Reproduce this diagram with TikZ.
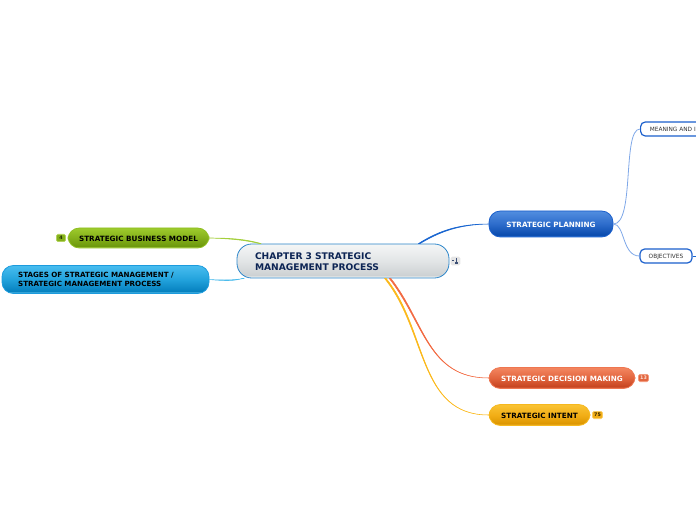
\documentclass[tikz,border=0pt]{standalone}
\usepackage{fontspec}
\setmainfont{DejaVu Sans}
\definecolor{navy}{HTML}{0C2454}
\newcommand{\glossy}[6]{%
 \pgfdeclareverticalshading{#1}{100bp}{color(0bp)=(#5);color(25bp)=(#5);color(26.5bp)=(#5);color(29bp)=(#4);color(50bp)=(#3);color(73bp)=(#2);color(75bp)=(#6);color(100bp)=(#6)}}
\definecolor{grA}{HTML}{9CC92B}\definecolor{grB}{HTML}{84B01A}\definecolor{grC}{HTML}{6C980C}\definecolor{grD}{HTML}{B4D65A}\definecolor{grE}{HTML}{8FBE22}
\definecolor{cyA}{HTML}{45BBEE}\definecolor{cyB}{HTML}{22A2DC}\definecolor{cyC}{HTML}{0681BF}\definecolor{cyD}{HTML}{5CC2EC}\definecolor{cyE}{HTML}{1C9BDD}
\definecolor{blA}{HTML}{4F8BDE}\definecolor{blB}{HTML}{2D6CCB}\definecolor{blC}{HTML}{0A4BAE}\definecolor{blD}{HTML}{2A6FD0}\definecolor{blE}{HTML}{1A5FCC}
\definecolor{reA}{HTML}{F2845E}\definecolor{reB}{HTML}{E2653E}\definecolor{reC}{HTML}{C64420}\definecolor{reD}{HTML}{F59A7C}\definecolor{reE}{HTML}{EE7650}
\definecolor{yeA}{HTML}{F9C232}\definecolor{yeB}{HTML}{F2AE16}\definecolor{yeC}{HTML}{DD9600}\definecolor{yeD}{HTML}{FBCF66}\definecolor{yeE}{HTML}{F6B81E}
\definecolor{ceA}{HTML}{F3F5F5}\definecolor{ceB}{HTML}{E2E5E6}\definecolor{ceC}{HTML}{CDD1D3}\definecolor{ceD}{HTML}{EEF1F2}\definecolor{ceE}{HTML}{2C86CA}
\glossy{shgreen}{grA}{grB}{grC}{grD}{grA}
\glossy{shcyan}{cyA}{cyB}{cyC}{cyD}{cyA}
\glossy{shblue}{blA}{blB}{blC}{blD}{blA}
\glossy{shred}{reA}{reB}{reC}{reD}{reA}
\glossy{shyellow}{yeA}{yeB}{yeC}{yeD}{yeA}
\glossy{shcentre}{ceA}{ceB}{ceC}{ceD}{ceA}
\tikzset{
 x=0.75pt,y=-0.75pt,
 topic/.style={rounded corners=8.5pt,inner sep=0pt,font=\bfseries\fontsize{5.42pt}{6.9pt}\selectfont,line width=0.6pt,text height=5.4pt,text depth=0pt},
 topictwo/.style={topic,text height=,text depth=,align=left},
 subtopic/.style={rounded corners=3.5pt,draw=blE,line width=0.9pt,fill=white,inner sep=0pt,minimum height=10.5pt,font=\fontsize{4.35pt}{5pt}\selectfont,text=black!80,text height=4.2pt,text depth=0pt},
 badge/.style={rounded corners=1.2pt,inner sep=0pt,minimum width=7pt,minimum height=5.6pt,font=\bfseries\fontsize{3.6pt}{4pt}\selectfont,line width=0.4pt},
 link/.style={line width=0.4pt,line join=round},
}
\begin{document}
\begin{tikzpicture}
\useasboundingbox (0,0) rectangle (696,520);
\clip (0,0) rectangle (696,520);
% main nodes
\node[topictwo,draw=ceE,shading=shcentre,minimum width=159pt,minimum height=25.5pt,rounded corners=11pt,text=navy,
  font=\bfseries\fontsize{6.85pt}{8.3pt}\selectfont,text width=132pt] (centre) at (343,261)
  {\rule{0pt}{6.6pt}CHAPTER 3 STRATEGIC\\MANAGEMENT PROCESS};
\node[topic,draw=blE,shading=shblue,minimum width=93pt,minimum height=19.5pt,text=white] (plan) at (551,224) {STRATEGIC PLANNING};
\node[topic,draw=grE,shading=shgreen,minimum width=105.75pt,minimum height=15pt,text=black] (model) at (138.5,238) {STRATEGIC BUSINESS MODEL};
\node[topictwo,draw=cyE,shading=shcyan,minimum width=155.25pt,minimum height=21pt,text=black,text width=131pt,
  font=\bfseries\fontsize{5.35pt}{6.4pt}\selectfont] (stages) at (105.5,279.5)
  {STAGES OF STRATEGIC MANAGEMENT /\\STRATEGIC MANAGEMENT PROCESS};
\node[topic,draw=reE,shading=shred,minimum width=109.5pt,minimum height=15.75pt,text=white] (decision) at (562,378) {STRATEGIC DECISION MAKING};
\node[topic,draw=yeE,shading=shyellow,minimum width=75.75pt,minimum height=15.75pt,text=black] (intent) at (539.5,415) {STRATEGIC INTENT};
% sub nodes
\node[subtopic,anchor=west,minimum width=90pt,align=left,text width=76pt] (meaning) at (640,129) {MEANING AND IMPORTANCE};
\node[subtopic,minimum width=39pt] (objectives) at (666,256) {OBJECTIVES};
\coordinate (objstub) at (700,256);
% badges
\node[badge,fill=grB,draw=grD,text=black!70!grC] (bmodel) at (61,238) {4};
\node[badge,fill=reB,draw=reD,text=white!70!reD,minimum width=7.6pt] (bdecision) at (643.5,378) {13};
\node[badge,fill=yeB,draw=yeD,text=black!80!yeC,minimum width=7.6pt] (bintent) at (597.5,415) {75};
% little icon beside the central topic
\node[rounded corners=1.2pt,fill=black!10,minimum width=7.4pt,minimum height=6.6pt,inner sep=0pt] (icon) at (455.5,261) {};
\fill[navy!80] ([xshift=-2.6pt,yshift=-.2pt]icon.center) rectangle ++(1.8pt,.7pt);
\fill[navy!80] ([xshift=-.2pt,yshift=-1.9pt]icon.center) rectangle ++(2.2pt,1.3pt);
\fill[navy!80] ([xshift=.3pt,yshift=-.8pt]icon.center) rectangle ++(1pt,2.8pt);
% connectors
\definecolor{lkblue}{HTML}{1A66D0}\definecolor{lkgreen}{HTML}{A4CF3C}\definecolor{lkcyan}{HTML}{4DBCEC}
\definecolor{lkred}{HTML}{F26A42}\definecolor{lkyellow}{HTML}{FBB81A}\definecolor{lksub}{HTML}{7FA8E8}
\draw[link,draw=lkblue,fill=lkblue] (centre.13.3) .. controls (440,230) and (460,224) .. (plan.west)
   .. controls (460,224.6) and (441,231) .. ([xshift=1.2pt]centre.13.3) -- cycle;
\draw[link,draw=lkgreen,fill=lkgreen] (centre.168.1) .. controls (245,239) and (230,238) .. (model.east)
   .. controls (230,238.7) and (245,240) .. ([xshift=-1.2pt]centre.168.1) -- cycle;
\draw[link,draw=lkcyan,fill=lkcyan] (centre.190) .. controls (235,280) and (225,280.5) .. (stages.east)
   .. controls (225,281) and (235,281) .. ([xshift=-1.5pt]centre.190) -- cycle;
\draw[link,draw=lkred,fill=lkred] (centre.-20.7) .. controls (425,322) and (428,378) .. (decision.west)
   .. controls (428,378.2) and (424,322.5) .. ([xshift=-1.2pt]centre.-20.7) -- cycle;
\draw[link,draw=lkyellow,fill=lkyellow] (centre.-22.5) .. controls (428,330) and (418,415) .. (intent.west)
   .. controls (418,415.2) and (427,330.5) .. ([xshift=-1.2pt]centre.-22.5) -- cycle;
\draw[lksub,line width=0.6pt] (plan.east) .. controls (635,224) and (622,129) .. (meaning.west);
\draw[lksub,line width=0.6pt] (plan.east) .. controls (625,224) and (622,256) .. (objectives.west);
\draw[lkblue,line width=0.6pt] (objectives.east) -- (objstub);
\end{tikzpicture}
\end{document}
